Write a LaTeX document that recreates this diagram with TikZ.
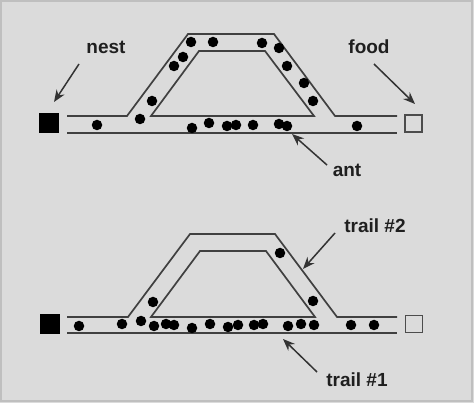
\documentclass[tikz,border=0pt]{standalone}
\usepackage{fontspec}
\setmainfont{Liberation Sans}
\usetikzlibrary{arrows.meta}
\begin{document}
\begin{tikzpicture}[x=1pt,y=-1pt,
  ant/.style={circle,fill=black,inner sep=0pt,minimum size=10.5pt},
  wall/.style={draw=black!75,line width=1.7pt,line join=miter},
  lbl/.style={font=\fontsize{19}{23}\selectfont\bfseries,inner sep=0pt,anchor=base,text=black!88},
  pointer/.style={draw=black!80,line width=1.5pt,-{Stealth[length=12pt,width=9.5pt]}},
  nestbox/.style={draw=black,fill=black,line width=1pt,minimum size=19pt,inner sep=0pt},
  foodbox/.style={draw=black!70,line width=1.8pt,minimum size=17pt,inner sep=0pt}]
\useasboundingbox (0,0) rectangle (474,403);
\fill[gray!28] (0,0) rectangle (474,403);
\draw[gray!50,line width=1.5pt] (1,1) rectangle (472,401);

% ---------- top panel ----------
\draw[wall] (67,133) -- (397,133);
\draw[wall] (67,116) -- (127,116) -- (188,34) -- (274,34) -- (335,116) -- (397,116);
\draw[wall] (151,116) -- (199,51) -- (265,51) -- (314,116) -- cycle;
\node[nestbox] (nest1) at (49,123.5) {};
\node[foodbox] (food1) at (413.5,123.5) {};
\foreach \p [count=\i] in {(97,125),(140,119),(152,101),(174,66),(183,57),(191,42),(213,42),(262,43),(279,48),(287,66),(304,83),(313,101),(192,128),(209,123),(227,126),(236,125),(253,125),(279,124),(287,126),(357,126)}
  \node[ant] (a\i) at \p {};
\node[lbl] (nestL) at (106,54) {nest};
\node[lbl] (foodL) at (369,54) {food};
\node[lbl] (antL) at (347,177) {ant};
\coordinate (nestS) at (79,64);  \coordinate (nestT) at (54,102);
\coordinate (foodS) at (374,64); \coordinate (foodT) at (415,104);
\coordinate (antS) at (327,165); \coordinate (antT) at (292,134);
\draw[pointer] (nestS) -- (nestT);
\draw[pointer] (foodS) -- (foodT);
\draw[pointer] (antS) -- (antT);

% ---------- bottom panel ----------
\draw[wall] (67,333) -- (397,333);
\draw[wall] (67,317) -- (128,317) -- (190,234) -- (275,234) -- (337,317) -- (397,317);
\draw[wall] (151,317) -- (200,251) -- (266,251) -- (315,317) -- cycle;
\node[nestbox] (nest2) at (49.5,324) {};
\node[foodbox] (food2) at (414,324) {};
\foreach \p [count=\i] in {(79,326),(122,324),(141,321),(153,302),(154,326),(166,324),(174,325),(192,328),(210,324),(228,327),(238,325),(254,325),(263,324),(288,326),(301,324),(314,325),(280,253),(313,301),(351,325),(374,325)}
  \node[ant] (b\i) at \p {};
\node[lbl] (trail2L) at (375,233) {trail \#2};
\node[lbl] (trail1L) at (357,386) {trail \#1};
\coordinate (t2S) at (335,233); \coordinate (t2T) at (303,269);
\coordinate (t1S) at (317,372); \coordinate (t1T) at (283,339);
\draw[pointer] (t2S) -- (t2T);
\draw[pointer] (t1S) -- (t1T);
\end{tikzpicture}
\end{document}
